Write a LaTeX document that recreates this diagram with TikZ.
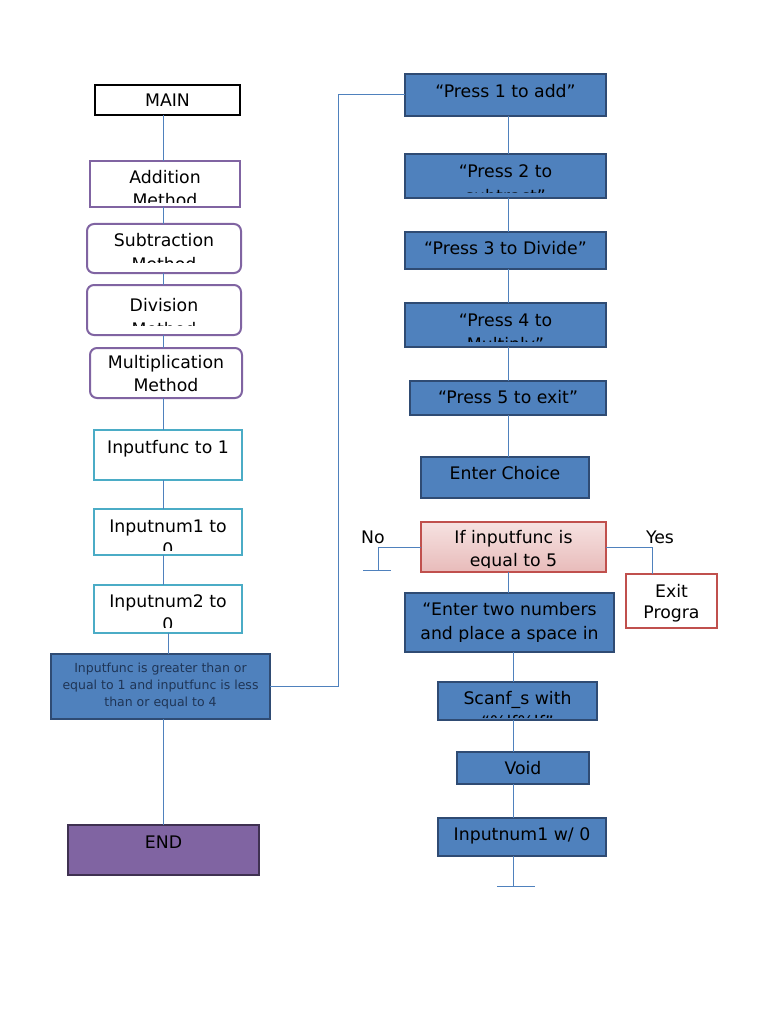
\documentclass[tikz,border=0pt]{standalone}
\usepackage{fontspec}
\setmainfont{DejaVu Sans}
\usetikzlibrary{calc,fit}
\definecolor{boxblue}{HTML}{4F81BD}
\definecolor{navy}{HTML}{2F4B73}
\definecolor{lineblue}{HTML}{4F81BD}
\definecolor{purp}{HTML}{8064A2}
\definecolor{darkpurp}{HTML}{3F3151}
\definecolor{cyanb}{HTML}{4BACC6}
\definecolor{redb}{HTML}{C0504D}
\definecolor{pinktop}{HTML}{F6E2E1}
\definecolor{pinkbot}{HTML}{E8BBBA}
\definecolor{dectext}{HTML}{1F3556}
\begin{document}
\begin{tikzpicture}[x=1pt,y=-1pt,
  conn/.style={draw=lineblue, line width=1pt},
  bx/.style={rectangle, inner sep=0pt, outer sep=0pt},
  bluebox/.style={bx, draw=navy, fill=boxblue, line width=2.5pt},
  methbox/.style={bx, draw=purp, fill=white, line width=2pt},
  rmethbox/.style={methbox, rounded corners=7pt},
  inbox/.style={bx, draw=cyanb, fill=white, line width=2.5pt},
  mainbox/.style={bx, draw=black, fill=white, line width=2pt},
  endbox/.style={bx, draw=darkpurp, fill=purp, line width=2.5pt},
  ifbox/.style={bx, draw=redb, top color=pinktop, bottom color=pinkbot, line width=1.2pt},
  exitbox/.style={bx, draw=redb, fill=white, line width=2pt},
  txt/.style={font=\fontsize{17.3}{23}\selectfont, inner sep=0pt, text height=12.6pt, text depth=0pt, text=black},
  small/.style={font=\fontsize{12.5}{17}\selectfont, inner sep=0pt, text height=9.1pt, text depth=0pt, text=dectext},
]
\useasboundingbox[fill=white] (0,0) rectangle (768,1024);

% column coordinates
\coordinate (cL) at (163,0);
\coordinate (cL2) at (168,0);
\coordinate (cM) at (338,0);
\coordinate (cR) at (508,0);
\coordinate (cR2) at (513,0);
\coordinate (cY) at (652,0);
\coordinate (noT) at (378,570);
\coordinate (noL) at (363,570);
\coordinate (noR) at (391,570);
\coordinate (endB) at (513,886);
\coordinate (endL) at (497,886);
\coordinate (endR) at (535,886);

% ---------- left column boxes ----------
\node[mainbox, fit={(95,85)(240,115)}] (main) {};
\node[txt] (maint) at (167.5,100) {MAIN};

\node[methbox, fit={(90,161)(240,207)}] (add) {};
\node[txt] (addt) at (165,177) {Addition};
\begin{scope}
  \clip (92,163) rectangle (238,203);
  \node[txt] (addt2) at (165,200) {Method};
\end{scope}

\node[rmethbox, fit={(87,224)(241,273)}] (sub) {};
\node[txt] (subt) at (164,240) {Subtraction};
\begin{scope}
  \clip (89,226) rectangle (239,262);
  \node[txt] (subt2) at (164,264) {Method};
\end{scope}

\node[rmethbox, fit={(87,285)(241,335)}] (div) {};
\node[txt] (divt) at (164,305) {Division};
\begin{scope}
  \clip (89,287) rectangle (239,325);
  \node[txt] (divt2) at (164,329) {Method};
\end{scope}

\node[rmethbox, fit={(90,348)(242,398)}] (mul) {};
\node[txt] (mult) at (166,362) {Multiplication};
\node[txt] (mult2) at (166,385) {Method};

\node[inbox, fit={(94,430)(242,480)}] (if1) {};
\node[txt] (if1t) at (168,447) {Inputfunc to 1};

\node[inbox, fit={(94,509)(242,555)}] (in1) {};
\node[txt] (in1t) at (168,526) {Inputnum1 to};
\begin{scope}
  \clip (96,511) rectangle (240,550);
  \node[txt] (in1t2) at (168,549) {0};
\end{scope}

\node[inbox, fit={(94,585)(242,633)}] (in2) {};
\node[txt] (in2t) at (168,601) {Inputnum2 to};
\begin{scope}
  \clip (96,587) rectangle (240,627);
  \node[txt] (in2t2) at (168,624) {0};
\end{scope}

\node[bluebox, fit={(51,654)(270,719)}] (dec) {};
\node[small] (dect1) at (160.5,668) {Inputfunc is greater than or};
\node[small] (dect2) at (160.5,685) {equal to 1 and inputfunc is less};
\node[small] (dect3) at (160.5,702) {than or equal to 4};

\node[endbox, fit={(68,825)(259,875)}] (endn) {};
\node[txt] (endt) at (163.5,842) {END};

% ---------- right column boxes ----------
\node[bluebox, fit={(405,74)(606,116)}] (p1) {};
\node[txt] (p1t) at (505.5,91) {“Press 1 to add”};

\node[bluebox, fit={(405,154)(606,198)}] (p2) {};
\node[txt] (p2t) at (505.5,171) {“Press 2 to};
\begin{scope}
  \clip (407,156) rectangle (604,193);
  \node[txt] (p2t2) at (505.5,196) {subtract”};
\end{scope}

\node[bluebox, fit={(405,232)(606,269)}] (p3) {};
\node[txt] (p3t) at (505.5,248) {“Press 3 to Divide”};

\node[bluebox, fit={(405,303)(606,347)}] (p4) {};
\node[txt] (p4t) at (505.5,320) {“Press 4 to};
\begin{scope}
  \clip (407,305) rectangle (604,341);
  \node[txt] (p4t2) at (505.5,344) {Multiply”};
\end{scope}

\node[bluebox, fit={(410,381)(606,415)}] (p5) {};
\node[txt] (p5t) at (508,397) {“Press 5 to exit”};

\node[bluebox, fit={(421,457)(589,498)}] (ch) {};
\node[txt] (cht) at (505,473) {Enter Choice};

\node[ifbox, fit={(421,522)(606,572)}] (ifn) {};
\node[txt] (ift) at (513.5,537) {If inputfunc is};
\begin{scope}
  \clip (422,523) rectangle (605,567);
  \node[txt] (ift2) at (513.5,560) {equal to 5};
\end{scope}

\node[exitbox, fit={(626,574)(717,628)}] (exitn) {};
\node[txt] (exitt) at (671.5,591) {Exit};
\node[txt] (exitt2) at (671.5,612) {Progra};

\node[bluebox, fit={(405,593)(614,652)}] (ent) {};
\node[txt] (entt) at (509.5,609) {“Enter two numbers};
\begin{scope}
  \clip (407,595) rectangle (612,641);
  \node[txt] (entt2) at (509.5,633) {and place a space in};
\end{scope}

\node[bluebox, fit={(438,682)(597,720)}] (sc) {};
\node[txt] (sct) at (517.5,698) {Scanf\_s with};
\begin{scope}
  \clip (440,684) rectangle (595,717.5);
  \node[txt] (sct2) at (517.5,722) {“\%lf\%lf”};
\end{scope}

\node[bluebox, fit={(457,752)(589,784)}] (void) {};
\node[txt] (voidt) at (523,768) {Void};

\node[bluebox, fit={(438,818)(606,856)}] (in0) {};
\node[txt] (in0t) at (522,834) {Inputnum1 w/ 0};

% labels
\node[txt] (nolab) at (373,537) {No};
\node[txt] (yeslab) at (660,537) {Yes};

% ---------- connectors ----------
\draw[conn] (main.south -| cL) -- (add.north -| cL);
\draw[conn] (add.south -| cL) -- (sub.north -| cL);
\draw[conn] (sub.south -| cL) -- (div.north -| cL);
\draw[conn] (div.south -| cL) -- (mul.north -| cL);
\draw[conn] (mul.south -| cL) -- (if1.north -| cL);
\draw[conn] (if1.south -| cL) -- (in1.north -| cL);
\draw[conn] (in1.south -| cL) -- (in2.north -| cL);
\draw[conn] (in2.south -| cL2) -- (dec.north -| cL2);
\draw[conn] (dec.south -| cL) -- (endn.north -| cL);
\draw[conn] (dec.east) -- (dec.east -| cM) -- (p1.west -| cM) -- (p1.west);

\draw[conn] (p1.south -| cR) -- (p2.north -| cR);
\draw[conn] (p2.south -| cR) -- (p3.north -| cR);
\draw[conn] (p3.south -| cR) -- (p4.north -| cR);
\draw[conn] (p4.south -| cR) -- (p5.north -| cR);
\draw[conn] (p5.south -| cR) -- (ch.north -| cR);

\draw[conn] (ifn.west) -| (noT);
\draw[conn] (noL) -- (noR);
\draw[conn] (ifn.east) -| (exitn.north -| cY);
\draw[conn] (ifn.south -| cR) -- (ent.north -| cR);
\draw[conn] (ent.south -| cR2) -- (sc.north -| cR2);
\draw[conn] (sc.south -| cR2) -- (void.north -| cR2);
\draw[conn] (void.south -| cR2) -- (in0.north -| cR2);
\draw[conn] (in0.south -| cR2) -- (endB);
\draw[conn] (endL) -- (endR);
\end{tikzpicture}
\end{document}
